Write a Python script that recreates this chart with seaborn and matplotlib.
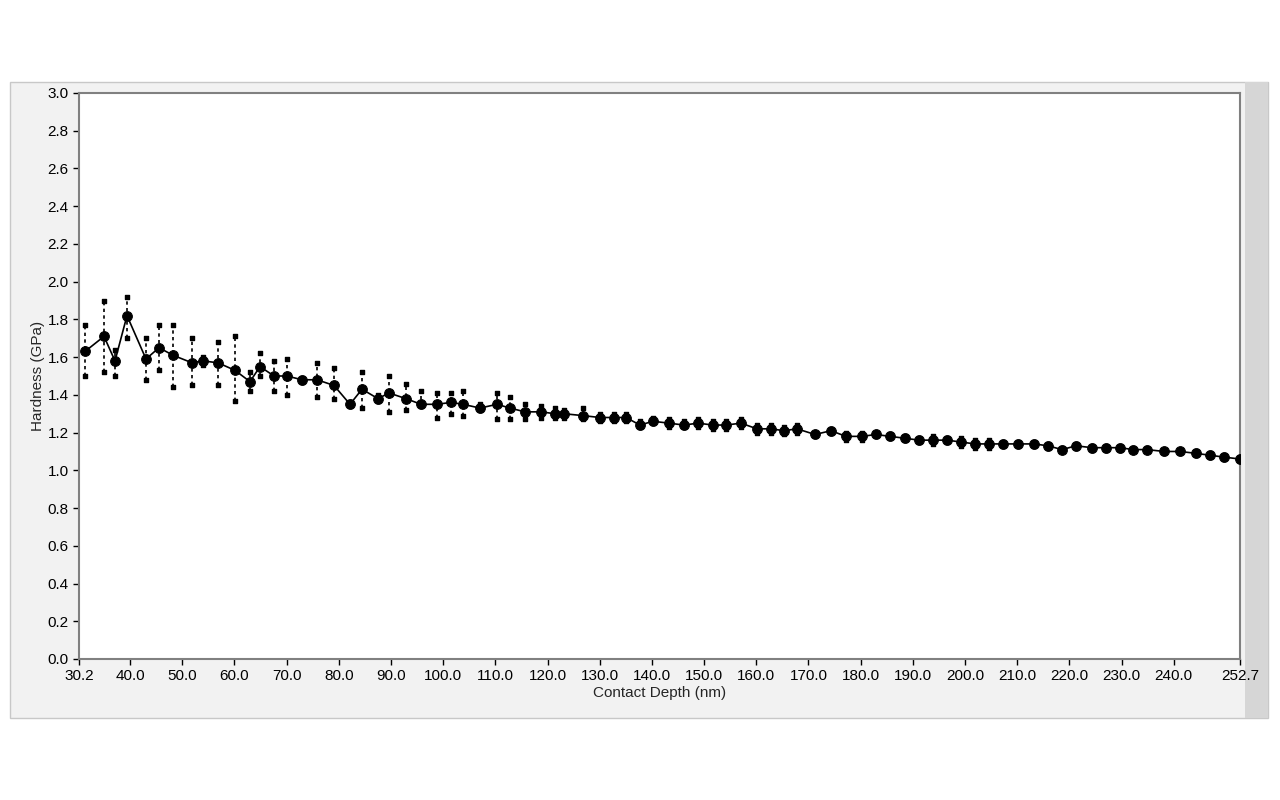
import numpy as np
import pandas as pd
import matplotlib
matplotlib.use("Agg")
import matplotlib.pyplot as plt
from matplotlib.patches import Rectangle
import seaborn as sns

# pixel-read positions of the samples (converted to nm below)
depth_px = [85, 104, 115, 127, 146, 159, 173, 192, 203, 218, 235, 250, 260, 274, 287,
            302, 317, 334, 350, 362, 378, 389, 406, 421, 437, 451, 463, 480, 497, 510,
            525, 541, 555, 564, 583, 600, 614, 626, 640, 653, 669, 684, 698, 713, 726,
            741, 757, 771, 784, 797, 815, 831, 846, 862, 876, 890, 905, 919, 933, 947,
            961, 975, 989, 1003, 1018, 1034, 1048, 1062, 1076, 1092, 1106, 1120, 1133,
            1147, 1164, 1180, 1196, 1210, 1224, 1240]
hardness = [1.63, 1.71, 1.58, 1.82, 1.59, 1.65, 1.61, 1.57, 1.58, 1.57, 1.53, 1.47, 1.55,
            1.50, 1.50, 1.48, 1.48, 1.45, 1.35, 1.43, 1.38, 1.41, 1.38, 1.35, 1.35, 1.36,
            1.35, 1.33, 1.35, 1.33, 1.31, 1.31, 1.30, 1.30, 1.29, 1.28, 1.28, 1.28, 1.24,
            1.26, 1.25, 1.24, 1.25, 1.24, 1.24, 1.25, 1.22, 1.22, 1.21, 1.22, 1.19, 1.21,
            1.18, 1.18, 1.19, 1.18, 1.17, 1.16, 1.16, 1.16, 1.15, 1.14, 1.14, 1.14, 1.14,
            1.14, 1.13, 1.11, 1.13, 1.12, 1.12, 1.12, 1.11, 1.11, 1.10, 1.10, 1.09, 1.08,
            1.07, 1.06]
err_lo = [1.50, 1.52, 1.50, 1.70, 1.48, 1.53, 1.44, 1.45, 1.56, 1.45, 1.37, 1.42, 1.50,
          1.42, 1.40, 1.47, 1.39, 1.38, 1.34, 1.33, 1.37, 1.31, 1.32, 1.34, 1.28, 1.30,
          1.29, 1.32, 1.27, 1.27, 1.27, 1.28, 1.28, 1.28, 1.27, 1.26, 1.26, 1.26, 1.23,
          1.25, 1.23, 1.23, 1.23, 1.22, 1.22, 1.23, 1.20, 1.20, 1.19, 1.20, 1.18, 1.20,
          1.16, 1.16, 1.18, 1.17, 1.16, 1.15, 1.14, 1.15, 1.13, 1.12, 1.12, 1.13, 1.13,
          1.13, 1.12, 1.10, 1.12, 1.11, 1.11, 1.11, 1.10, 1.10, 1.09, 1.09, 1.08, 1.07,
          1.06, 1.05]
err_hi = [1.77, 1.90, 1.64, 1.92, 1.70, 1.77, 1.77, 1.70, 1.60, 1.68, 1.71, 1.52, 1.62,
          1.58, 1.59, 1.49, 1.57, 1.54, 1.36, 1.52, 1.40, 1.50, 1.46, 1.42, 1.41, 1.41,
          1.42, 1.35, 1.41, 1.39, 1.35, 1.34, 1.33, 1.32, 1.33, 1.30, 1.30, 1.30, 1.26,
          1.28, 1.27, 1.26, 1.27, 1.26, 1.26, 1.27, 1.24, 1.24, 1.23, 1.24, 1.20, 1.22,
          1.20, 1.20, 1.20, 1.19, 1.18, 1.17, 1.18, 1.17, 1.17, 1.16, 1.16, 1.15, 1.15,
          1.15, 1.14, 1.12, 1.14, 1.13, 1.13, 1.13, 1.12, 1.12, 1.11, 1.11, 1.10, 1.09,
          1.08, 1.07]

x_ticks = [30.2] + [float(v) for v in range(40, 241, 10)] + [252.7]
y_ticks = [round(0.2 * i, 1) for i in range(16)]

depth = [30.2 + (p - 79) * (252.7 - 30.2) / 1161 for p in depth_px]
df = pd.DataFrame({"depth": depth, "hardness": hardness, "lo": err_lo, "hi": err_hi})

sns.set_style("white")
plt.rcParams["font.family"] = ["Liberation Sans", "DejaVu Sans"]

fig = plt.figure(figsize=(12.8, 8.0), dpi=100)

# grey panel behind the chart, drawn in a background axes
bg = fig.add_axes([0, 0, 1, 1], zorder=0)
bg.set_xlim(0, 1280)
bg.set_ylim(800, 0)
bg.axis("off")
bg.add_patch(Rectangle((10, 82), 1258, 636, facecolor="#f2f2f2", edgecolor="#c8c8c8", lw=1))
bg.add_patch(Rectangle((1245, 82), 23, 636, facecolor="#d6d6d6", edgecolor="none"))

ax = fig.add_axes([79 / 1280, 141 / 800, 1161 / 1280, 566 / 800], zorder=1)
ax.set_facecolor("white")

ax.vlines(df["depth"], df["lo"], df["hi"], colors="black", linestyles=(0, (2, 2)), lw=1.2, zorder=2)
ax.scatter(df["depth"], df["lo"], marker="s", s=8, color="black", zorder=3)
ax.scatter(df["depth"], df["hi"], marker="s", s=8, color="black", zorder=3)
sns.lineplot(data=df, x="depth", y="hardness", ax=ax, color="black", lw=1.2,
             marker="o", markersize=7, markeredgecolor="black", zorder=4)

ax.set_xlim(30.2, 252.7)
ax.set_ylim(0, 3.0)
ax.set_xticks(x_ticks)
ax.set_xticklabels([f"{v:.1f}" for v in x_ticks])
ax.set_yticks(y_ticks)
ax.set_yticklabels([f"{v:.1f}" for v in y_ticks])
ax.tick_params(axis="both", labelsize=11, direction="out", length=4, width=1, colors="black",
               bottom=True, left=True)
ax.set_xlabel("Contact Depth (nm)", fontsize=11, labelpad=2)
ax.set_ylabel("Hardness (GPa)", fontsize=11, labelpad=2)
for s in ax.spines.values():
    s.set_color("#808080")
    s.set_linewidth(1.5)

fig.savefig("out.png", dpi=100)
